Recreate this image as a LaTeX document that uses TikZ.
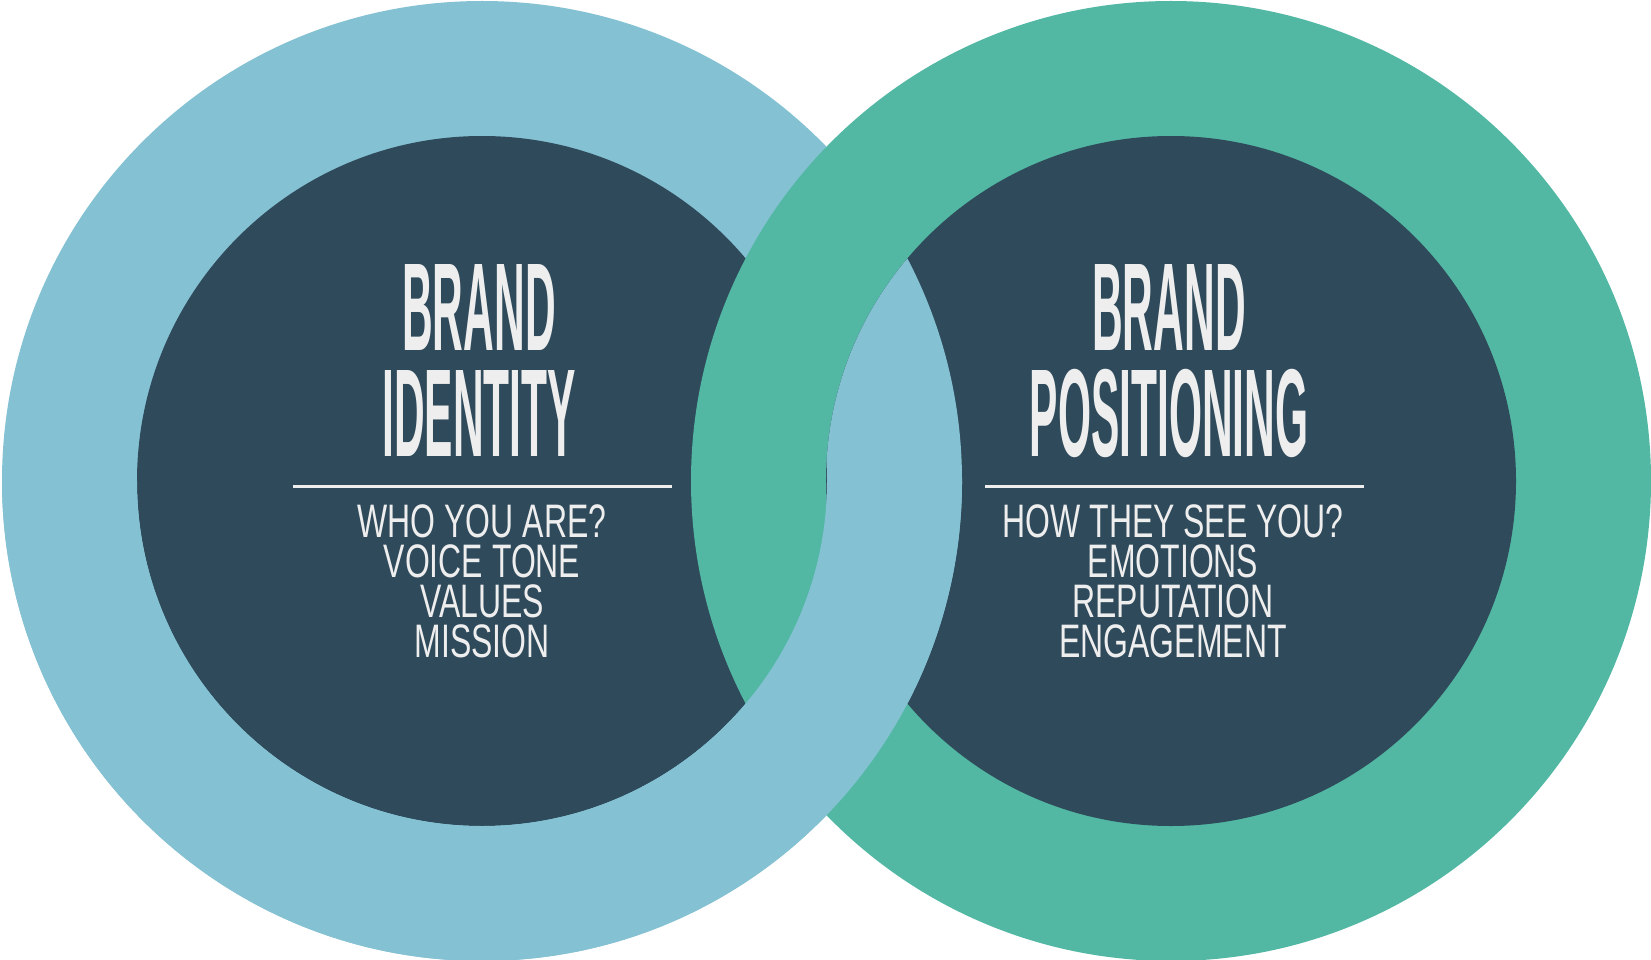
\documentclass[tikz,border=0pt]{standalone}
\usepackage{fontspec}
\setmainfont{Liberation Sans}
\definecolor{ringblue}{HTML}{84C1D3}
\definecolor{ringgreen}{HTML}{52B8A3}
\definecolor{core}{HTML}{2F4A5B}
\definecolor{txt}{HTML}{EEEEEE}
\tikzset{
  title/.style={text=txt,font=\fontsize{125}{125}\selectfont\bfseries,inner sep=0pt,anchor=base},
  sub/.style={text=txt,font=\fontsize{47}{47}\selectfont,inner sep=0pt,anchor=base},
  rule/.style={draw=txt,line width=3pt}
}
\begin{document}
\begin{tikzpicture}[x=1pt,y=-1pt]
\useasboundingbox (0,0) rectangle (1651,960);
\def\LX{482}\def\RX{1171}\def\CY{481}\def\RO{480}\def\RI{345}
% left ring
\fill[ringblue] (\LX,\CY) circle (\RO);
\fill[core] (\LX,\CY) circle (\RI);
% right ring
\fill[ringgreen] (\RX,\CY) circle (\RO);
\fill[core] (\RX,\CY) circle (\RI);
% interlock: blue over right core, and blue over green at the bottom
\begin{scope}
  \clip (\RX,\CY) circle (\RI);
  \fill[ringblue,even odd rule] (\LX,\CY) circle (\RO) (\LX,\CY) circle (\RI);
\end{scope}
\begin{scope}
  \clip (0,\CY) rectangle (1651,960);
  \fill[ringblue,even odd rule] (\LX,\CY) circle (\RO) (\LX,\CY) circle (\RI);
\end{scope}
% texts left
\node[title] (t1) at (479,350) {\scalebox{0.34}[1]{BRAND}};
\node[title] (t2) at (479,456) {\scalebox{0.34}[1]{IDENTITY}};
\draw[rule] (293,486) -- (672,486);
\node[sub] (s1) at (482,537) {\scalebox{0.68}[1]{WHO YOU ARE?}};
\node[sub] (s2) at (482,577) {\scalebox{0.68}[1]{VOICE TONE}};
\node[sub] (s3) at (482,617) {\scalebox{0.68}[1]{VALUES}};
\node[sub] (s4) at (482,657) {\scalebox{0.68}[1]{MISSION}};
% texts right
\node[title] (u1) at (1169,350) {\scalebox{0.34}[1]{BRAND}};
\node[title] (u2) at (1169,456) {\scalebox{0.34}[1]{POSITIONING}};
\draw[rule] (985,486) -- (1364,486);
\node[sub] (v1) at (1173,537) {\scalebox{0.68}[1]{HOW THEY SEE YOU?}};
\node[sub] (v2) at (1173,577) {\scalebox{0.68}[1]{EMOTIONS}};
\node[sub] (v3) at (1173,617) {\scalebox{0.68}[1]{REPUTATION}};
\node[sub] (v4) at (1173,657) {\scalebox{0.68}[1]{ENGAGEMENT}};
\end{tikzpicture}
\end{document}
